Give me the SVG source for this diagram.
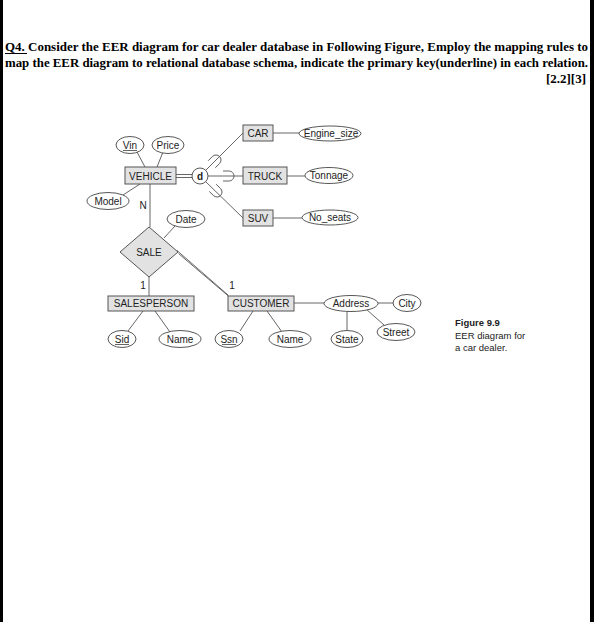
<svg xmlns="http://www.w3.org/2000/svg" width="594" height="622" viewBox="0 0 594 622">
<style>
.ent{fill:#e2e2e2;stroke:#555;stroke-width:1}
.att{fill:#fff;stroke:#444;stroke-width:0.9}
.rel{fill:#e2e2e2;stroke:#555;stroke-width:1}
.ln{stroke:#555;stroke-width:0.9;fill:none}
.t{font-family:"Liberation Sans",Arial,sans-serif;font-size:10px;fill:#222;text-anchor:middle}
.ttl{font-family:"Liberation Serif","Times New Roman",serif;font-size:13px;font-weight:bold;fill:#000}
.cap{font-family:"Liberation Sans",Arial,sans-serif;font-size:9.5px;fill:#222}
</style>
<defs>
<path id="sub" d="M-6,-5 H0 A5,5 0 0 1 0,5 H-6" fill="none" stroke="#555" stroke-width="0.9"/>
</defs>
<rect width="594" height="622" fill="#fff"/>
<rect x="0" y="0" width="3" height="622" fill="#000"/>
<rect x="590" y="0" width="4" height="622" fill="#000"/>
<g id="title">
<text class="ttl" x="5" y="51" textLength="583" lengthAdjust="spacingAndGlyphs">Q4. Consider the EER diagram for car dealer database in Following Figure, Employ the mapping rules to</text>
<line x1="5" y1="53.5" x2="27" y2="53.5" stroke="#000" stroke-width="1"/>
<text class="ttl" x="5" y="67" textLength="583" lengthAdjust="spacingAndGlyphs">map the EER diagram to relational database schema, indicate the primary key(underline) in each relation.</text>
<text class="ttl" x="586" y="83" text-anchor="end">[2.2][3]</text>
</g>
<g id="connectors">
<line class="ln" x1="137" y1="152" x2="145" y2="167"/>
<line class="ln" x1="163" y1="152" x2="157" y2="167"/>
<line class="ln" x1="123" y1="195" x2="140" y2="184"/>
<line class="ln" x1="176" y1="174.5" x2="192" y2="174.5"/>
<line class="ln" x1="176" y1="177.5" x2="192" y2="177.5"/>
<line class="ln" x1="205" y1="171" x2="243" y2="133"/>
<line class="ln" x1="208" y1="176" x2="243" y2="176"/>
<line class="ln" x1="205" y1="181" x2="243" y2="218"/>
<use href="#sub" transform="translate(216,160) rotate(-45)"/>
<use href="#sub" transform="translate(229,176)"/>
<use href="#sub" transform="translate(217,192) rotate(44)"/>
<line class="ln" x1="273" y1="133" x2="299" y2="133"/>
<line class="ln" x1="287" y1="176" x2="305" y2="176"/>
<line class="ln" x1="273" y1="218" x2="302" y2="218"/>
<line class="ln" x1="150" y1="184" x2="150" y2="227"/>
<line class="ln" x1="175" y1="226" x2="164" y2="238"/>
<line class="ln" x1="149" y1="277" x2="149" y2="296"/>
<line class="ln" x1="177" y1="250.5" x2="228" y2="295"/>
<line class="ln" x1="178.5" y1="253.5" x2="229.5" y2="297"/>
<line class="ln" x1="143" y1="311" x2="128" y2="331"/>
<line class="ln" x1="155" y1="311" x2="170" y2="332"/>
<line class="ln" x1="253" y1="311" x2="240" y2="331"/>
<line class="ln" x1="267" y1="311" x2="282" y2="332"/>
<line class="ln" x1="294" y1="303" x2="324" y2="303"/>
<line class="ln" x1="378" y1="303" x2="393" y2="303"/>
<line class="ln" x1="347" y1="310" x2="347" y2="331"/>
<line class="ln" x1="366" y1="309" x2="384" y2="325"/>
</g>
<g id="VEHICLE"><rect class="ent" x="125" y="167" width="51" height="17"/><text class="t" x="150.5" y="179.5">VEHICLE</text></g>
<g id="Vin"><ellipse class="att" cx="130" cy="145" rx="14" ry="8.5"/><text class="t" x="130" y="148.5">Vin</text><line x1="123" y1="150.5" x2="137" y2="150.5" stroke="#222" stroke-width="0.7"/></g>
<g id="Price"><ellipse class="att" cx="168" cy="145" rx="16" ry="8.5"/><text class="t" x="168" y="148.5">Price</text></g>
<g id="Model"><ellipse class="att" cx="108" cy="201" rx="21" ry="8.5"/><text class="t" x="108" y="204.5">Model</text></g>
<g id="d"><circle class="att" cx="200" cy="176" r="8"/><text class="t" x="200" y="179.5" style="font-weight:bold">d</text></g>
<g id="CAR"><rect class="ent" x="243" y="125" width="30" height="16"/><text class="t" x="258" y="136.5">CAR</text></g>
<g id="TRUCK"><rect class="ent" x="243" y="167" width="44" height="17"/><text class="t" x="265" y="179.5">TRUCK</text></g>
<g id="SUV"><rect class="ent" x="243" y="210" width="30" height="16"/><text class="t" x="258" y="221.5">SUV</text></g>
<g id="Engine_size"><ellipse class="att" cx="330" cy="133.5" rx="31" ry="7.5"/><text class="t" x="331" y="137">Engine_size</text></g>
<g id="Tonnage"><ellipse class="att" cx="329" cy="175.5" rx="24" ry="8"/><text class="t" x="329" y="179">Tonnage</text></g>
<g id="No_seats"><ellipse class="att" cx="330" cy="217.5" rx="28" ry="7.5"/><text class="t" x="330" y="221">No_seats</text></g>
<g id="N"><text class="t" x="143" y="209">N</text></g>
<g id="Date"><ellipse class="att" cx="186" cy="219" rx="19" ry="8.5"/><text class="t" x="186" y="222.5">Date</text></g>
<g id="SALE"><polygon class="rel" points="149,227 178,252 149,277 120,252"/><text class="t" x="149" y="255.5">SALE</text></g>
<g id="one1"><text class="t" x="143" y="289">1</text></g>
<g id="one2"><text class="t" x="232" y="289">1</text></g>
<g id="SALESPERSON"><rect class="ent" x="108" y="296" width="86" height="15"/><text class="t" x="151" y="307">SALESPERSON</text></g>
<g id="CUSTOMER"><rect class="ent" x="228" y="296" width="66" height="15"/><text class="t" x="261" y="307">CUSTOMER</text></g>
<g id="Sid"><ellipse class="att" cx="122" cy="339" rx="14" ry="8.5"/><text class="t" x="122" y="342.5">Sid</text><line x1="115" y1="344.5" x2="129" y2="344.5" stroke="#222" stroke-width="0.7"/></g>
<g id="Name1"><ellipse class="att" cx="180" cy="339" rx="21" ry="8.5"/><text class="t" x="180" y="342.5">Name</text></g>
<g id="Ssn"><ellipse class="att" cx="229" cy="339" rx="14" ry="8.5"/><text class="t" x="229" y="342.5">Ssn</text><line x1="222" y1="344.5" x2="236" y2="344.5" stroke="#222" stroke-width="0.7"/></g>
<g id="Name2"><ellipse class="att" cx="290" cy="339" rx="21" ry="8.5"/><text class="t" x="290" y="342.5">Name</text></g>
<g id="Address"><ellipse class="att" cx="351" cy="303.5" rx="27" ry="8"/><text class="t" x="351" y="307">Address</text></g>
<g id="City"><ellipse class="att" cx="407" cy="303" rx="14" ry="8.5"/><text class="t" x="407" y="306.5">City</text></g>
<g id="Street"><ellipse class="att" cx="396" cy="332" rx="19" ry="8.5"/><text class="t" x="396" y="335.5">Street</text></g>
<g id="State"><ellipse class="att" cx="347" cy="339" rx="16" ry="8.5"/><text class="t" x="347" y="342.5">State</text></g>
<g id="caption">
<text class="cap" x="455" y="326" style="font-weight:bold">Figure 9.9</text>
<text class="cap" x="455" y="339">EER diagram for</text>
<text class="cap" x="455" y="351">a car dealer.</text>
</g>
</svg>
